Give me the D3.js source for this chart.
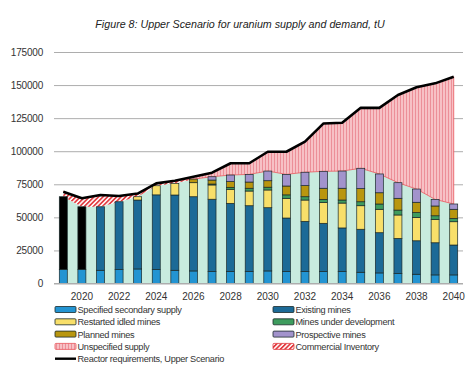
<!DOCTYPE html>
<html><head><meta charset="utf-8">
<script src="https://cdn.jsdelivr.net/npm/d3@7"></script>
<style>body{margin:0;background:#fff}svg{display:block}</style>
</head><body>
<svg id="chart" width="474" height="371"></svg>
<script>
// ---- data (tU) ----
const years = [2019,2020,2021,2022,2023,2024,2025,2026,2027,2028,2029,2030,2031,2032,2033,2034,2035,2036,2037,2038,2039,2040];
const secondarySupply   = [10700,10700,10000,10500,11000,10500,10000,9500,9000,9000,9000,9500,9000,9000,9000,9000,8500,8000,7500,7000,6500,6500];
const historicalMines   = [54900,47300,0,0,0,0,0,0,0,0,0,0,0,0,0,0,0,0,0,0,0,0];
const existingMines     = [0,0,48000,51300,52100,56500,56900,56100,54700,51600,49800,47800,40500,38000,36500,33000,32500,30400,26600,25300,24300,22600];
const restartedMines    = [0,0,0,0,2500,6900,8800,10600,10800,10600,11100,13400,14900,16100,15700,18800,17800,17700,17700,17700,17700,17600];
const minesUnderDev     = [0,0,0,0,0,0,0,0,700,1500,2100,2100,2600,2500,2400,2300,3000,4000,3700,3600,2700,2500];
const plannedMines      = [0,0,0,0,0,0,0,2700,3000,4300,4700,4900,6700,8400,8400,8900,9900,8500,8900,7800,7400,6900];
const prospectiveMines  = [0,0,0,0,0,0,0,0,2500,5000,5800,7300,8800,10100,12800,13000,15400,14200,11800,10000,5000,4000];
const commercialInventory = [3800,6400,8900,4400,2400,1800,2000,0,0,0,0,0,0,0,0,0,0,0,0,0,0,0];
const unspecifiedSupply   = [0,0,0,0,0,0,0,1800,3100,8900,8400,14600,17100,23100,36200,36500,45700,50000,66300,76900,87700,96200];
const reactorRequirements = [69400,64400,66900,66200,68000,75700,77700,80700,83800,90900,90900,99600,99600,107200,121000,121500,132800,132800,142500,148300,151300,156300];
const yTicks = [0,25000,50000,75000,100000,125000,150000,175000];
const xTickYears = [2020,2022,2024,2026,2028,2030,2032,2034,2036,2038,2040];

// ---- series meta ----
const barKeys = ["secondary","historical","existing","restarted","development","planned","prospective"];
const barColors = {secondary:"#2394d2", historical:"#000000", existing:"#1c6a97", restarted:"#f8df6a", development:"#3e9c5e", planned:"#b9960f", prospective:"#a293cc"};
const barData = {secondary:secondarySupply, historical:historicalMines, existing:existingMines, restarted:restartedMines, development:minesUnderDev, planned:plannedMines, prospective:prospectiveMines};

const table = years.map((yr,i) => {
  const row = {year: yr};
  barKeys.forEach(k => row[k] = barData[k][i]);
  row.supply = barKeys.reduce((s,k) => s + barData[k][i], 0);
  row.inventory = commercialInventory[i];
  row.unspecified = unspecifiedSupply[i];
  row.req = reactorRequirements[i];
  return row;
});

const svg = d3.select("#chart");
const FONT = "'Liberation Sans', Arial, sans-serif";
const pL = 54, pR = 463, pT = 52, pB = 283.5;

const x = d3.scaleBand().domain(years).range([pL,pR]).paddingInner(0.57).paddingOuter(0.285);
const cx = d => x(d) + x.bandwidth()/2;
const y = d3.scaleLinear().domain([0,175000]).range([pB, pT]);

// patterns
const defs = svg.append("defs");
const p1 = defs.append("pattern").attr("id","hatchInv").attr("patternUnits","userSpaceOnUse")
  .attr("width",3.2).attr("height",3.2).attr("patternTransform","rotate(45)");
p1.append("rect").attr("width",3.2).attr("height",3.2).attr("fill","#ffffff");
p1.append("rect").attr("width",1.7).attr("height",3.2).attr("fill","#e23b40");
const p2 = defs.append("pattern").attr("id","hatchUns").attr("patternUnits","userSpaceOnUse")
  .attr("width",3).attr("height",6);
p2.append("rect").attr("width",3).attr("height",6).attr("fill","#f7c1c5");
p2.append("rect").attr("x",1).attr("width",1).attr("height",6).attr("fill","#ec8f98");

// title
svg.append("text").attr("x",240).attr("y",28).attr("text-anchor","middle")
  .attr("font-family",FONT).attr("font-style","italic").attr("font-size",10.7).attr("fill","#222")
  .text("Figure 8: Upper Scenario for uranium supply and demand, tU");

// gridlines + y labels
const yAxis = svg.append("g").attr("transform",`translate(${pL},0)`)
  .call(d3.axisLeft(y).tickValues(yTicks).tickSize(-(pR-pL)).tickPadding(11).tickFormat(d3.format("d")));
yAxis.select(".domain").remove();
yAxis.selectAll(".tick line").attr("stroke","#adadad").attr("stroke-width",1);
yAxis.selectAll(".tick text").attr("font-family",FONT).attr("font-size",10).attr("letter-spacing",-0.2).attr("fill","#333");

// areas
const areaStack = d3.stack().keys(["supply","inventory","unspecified"])(table);
const area = d3.area().x(d => cx(d.data.year)).y0(d => y(d[0])).y1(d => y(d[1]));
const areaFill = {supply:"#c8ebde", inventory:"url(#hatchInv)", unspecified:"url(#hatchUns)"};
const areaStroke = {supply:"none", inventory:"none", unspecified:"#e8545b"};
svg.append("g").selectAll("path").data(areaStack).join("path")
  .attr("d", area).attr("fill", s => areaFill[s.key])
  .attr("stroke", s => areaStroke[s.key]).attr("stroke-width",0.8);

// bars
const barStack = d3.stack().keys(barKeys)(table);
svg.append("g").selectAll("g").data(barStack).join("g")
  .attr("fill", s => barColors[s.key])
  .selectAll("rect").data(s => s.filter(d => d[1]-d[0] > 0)).join("rect")
  .attr("x", d => x(d.data.year)).attr("width", x.bandwidth())
  .attr("y", d => y(d[1])).attr("height", d => y(d[0]) - y(d[1]))
  .attr("stroke","#1a2a2a").attr("stroke-width",0.7);

// x axis
const xAxis = svg.append("g").attr("transform",`translate(0,${pB})`)
  .call(d3.axisBottom(x).tickValues(xTickYears).tickSize(0).tickPadding(9));
xAxis.select(".domain").attr("stroke","#adadad").attr("d",`M${pL},0H${pR}`);
xAxis.selectAll(".tick text").attr("font-family",FONT).attr("font-size",10).attr("fill","#333");

// requirement line
svg.append("path").datum(table)
  .attr("d", d3.line().x(d => cx(d.year)).y(d => y(d.req)))
  .attr("fill","none").attr("stroke","#000").attr("stroke-width",2.6).attr("stroke-linejoin","round");

// legend
const legendItems = [
  {label:"Specified secondary supply", fill:barColors.secondary, col:0, row:0},
  {label:"Existing mines", fill:barColors.existing, col:1, row:0},
  {label:"Restarted idled mines", fill:barColors.restarted, col:0, row:1},
  {label:"Mines under development", fill:barColors.development, col:1, row:1},
  {label:"Planned mines", fill:barColors.planned, col:0, row:2},
  {label:"Prospective mines", fill:barColors.prospective, col:1, row:2},
  {label:"Unspecified supply", fill:"url(#hatchUns)", stroke:"#e8545b", col:0, row:3},
  {label:"Commercial Inventory", fill:"url(#hatchInv)", stroke:"#e23b40", col:1, row:3},
  {label:"Reactor requirements, Upper Scenario", line:true, col:0, row:4}
];
const lg = svg.append("g").attr("font-family",FONT).attr("font-size",9.2).attr("letter-spacing",-0.3).attr("fill","#333");
const colX = [55, 273], rowY = [309.5, 321.8, 334.1, 346.4, 358.7];
legendItems.forEach(it => {
  const g = lg.append("g").attr("transform",`translate(${colX[it.col]},${rowY[it.row]})`);
  if (it.line) {
    g.append("line").attr("x1",0).attr("x2",21).attr("stroke","#000").attr("stroke-width",2.4);
  } else {
    g.append("rect").attr("x",0).attr("y",-3).attr("width",21).attr("height",6).attr("rx",1)
      .attr("fill",it.fill).attr("stroke", it.stroke || "#1a2a2a").attr("stroke-width",0.8);
  }
  g.append("text").attr("x",22.5).attr("y",3.4).text(it.label);
});
</script>
</body></html>
